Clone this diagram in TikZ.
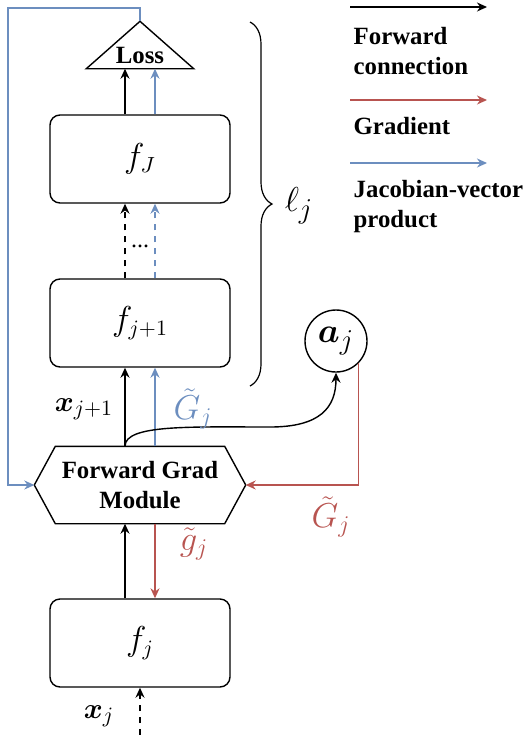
\documentclass[tikz,border=0pt]{standalone}
\usepackage{amsmath}
\usepackage{amssymb}
\usepackage{bm}
\usepackage{fontspec}
\setmainfont{Liberation Serif}
\usepackage{xcolor}
\usepackage{tikz}
\usetikzlibrary{calc}
\usetikzlibrary{arrows.meta}
\usetikzlibrary{decorations.pathreplacing}
\usetikzlibrary{positioning}
\definecolor{jvpblue}{RGB}{108,142,191}
\definecolor{gradred}{RGB}{184,84,80}

\begin{document}
\begin{tikzpicture}[x=.5pt,y=-.5pt,line width=.7pt,
		>={Stealth[length=5pt,width=4.5pt]},
		block/.style={draw,rounded corners=5pt,minimum width=90pt,minimum height=44pt,font=\fontsize{16}{19}\selectfont},
		lbl/.style={inner sep=0pt,font=\fontsize{17}{20}\selectfont},
		btxt/.style={inner sep=0pt,align=left,font=\bfseries\fontsize{12.4}{15}\selectfont},
		fw/.style={draw=black,->},
		gr/.style={draw=gradred,->},
		jvp/.style={draw=jvpblue,->}]
		  \useasboundingbox (0,0) rectangle (530,735);
		  \foreach \y/\name/\lab in {159/fJ/f_J,323/fj1/f_{j+1},643/fj/f_j}{
		  	\node[block] (\name) at (140,\y) {$\lab$};
		  }
		  \node[minimum width=53pt,minimum height=23pt,inner sep=0pt] (loss) at (140,45) {};
		  \draw (loss.south west) -- (loss.north) -- (loss.south east) -- cycle;
		  \node[btxt] (losslab) at (140,55) {Loss};
		  \node[btxt,align=center,minimum width=105pt,minimum height=38pt] (fgm) at (140,485) {Forward Grad\\Module};
		  \draw (fgm.west) -- ($(fgm.north west)+(21,0)$) -- ($(fgm.north east)+(-21,0)$) -- (fgm.east)
		  	-- ($(fgm.south east)+(-21,0)$) -- ($(fgm.south west)+(21,0)$) -- cycle;
		  \node[draw,circle,minimum size=31pt,inner sep=0pt,font=\fontsize{19}{22}\selectfont] (aj) at (336,341) {$\bm{a}_j$};
		  \coordinate (xin) at (140,735);
		  \coordinate (loop) at (8,8);
		  \coordinate (bend) at (270,427);
		  \draw[fw] ($(fJ.north)+(-15,0)$) -- ($(loss.south)+(-15,0)$);
		  \draw[jvp] ($(fJ.north)+(15,0)$) -- ($(loss.south)+(15,0)$);
		  \draw[fw,dashed] ($(fj1.north)+(-15,0)$) -- ($(fJ.south)+(-15,0)$);
		  \draw[jvp,dashed] ($(fj1.north)+(15,0)$) -- ($(fJ.south)+(15,0)$);
		  \node[inner sep=0pt,font=\fontsize{12}{15}\selectfont] (dots) at (140,246) {...};
		  \draw[fw] ($(fgm.north)+(-15,0)$) -- ($(fj1.south)+(-15,0)$);
		  \draw[jvp] ($(fgm.north)+(15,0)$) -- ($(fj1.south)+(15,0)$);
		  \draw[fw] ($(fgm.north)+(-15,0)$) .. controls +(0,-22) and +(-80,0) .. (bend)
		  	.. controls +(50,0) and +(0,35) .. (aj.south);
		  \draw[gr] (aj.-45) |- (fgm.east);
		  \draw[jvp] (loss.north) |- (loop) |- (fgm.west);
		  \draw[fw] ($(fj.north)+(-15,0)$) -- ($(fgm.south)+(-15,0)$);
		  \draw[gr] ($(fgm.south)+(15,0)$) -- ($(fj.north)+(15,0)$);
		  \draw[fw,dashed] (xin) -- (fj.south);
		  \node[lbl,font=\fontsize{15}{18}\selectfont] (xj1) at (84,409) {$\bm{x}_{j+1}$};
		  \node[lbl,text=jvpblue] (Gjvp) at (193,409) {$\tilde{G}_j$};
		  \node[lbl,text=gradred] (Ggr) at (331,517) {$\tilde{G}_j$};
		  \node[lbl,text=gradred] (gj) at (194,544) {$\tilde{g}_j$};
		  \node[lbl,font=\fontsize{15}{18}\selectfont] (xj) at (99,716) {$\bm{x}_j$};
		  \draw[line width=.6pt,decorate,decoration={brace,amplitude=11pt}] (250,22) -- (250,386);
		  \node[lbl,font=\fontsize{19}{22}\selectfont] (lj) at (299,206) {$\ell_j$};
		  \foreach \y/\st/\n in {7/fw/1,100/gr/2,163/jvp/3}{
		  	\coordinate (leg\n a) at (350,\y);
		  	\coordinate (leg\n b) at (487,\y);
		  	\draw[\st] (leg\n a) -- (leg\n b);
		  }
		  \node[btxt,anchor=north west] (legfw) at (353,27) {Forward\\connection};
		  \node[btxt,anchor=north west] (leggr) at (353,117) {Gradient};
		  \node[btxt,anchor=north west] (legjvp) at (353,180) {Jacobian-vector\\product};
		 \end{tikzpicture}
\end{document}
